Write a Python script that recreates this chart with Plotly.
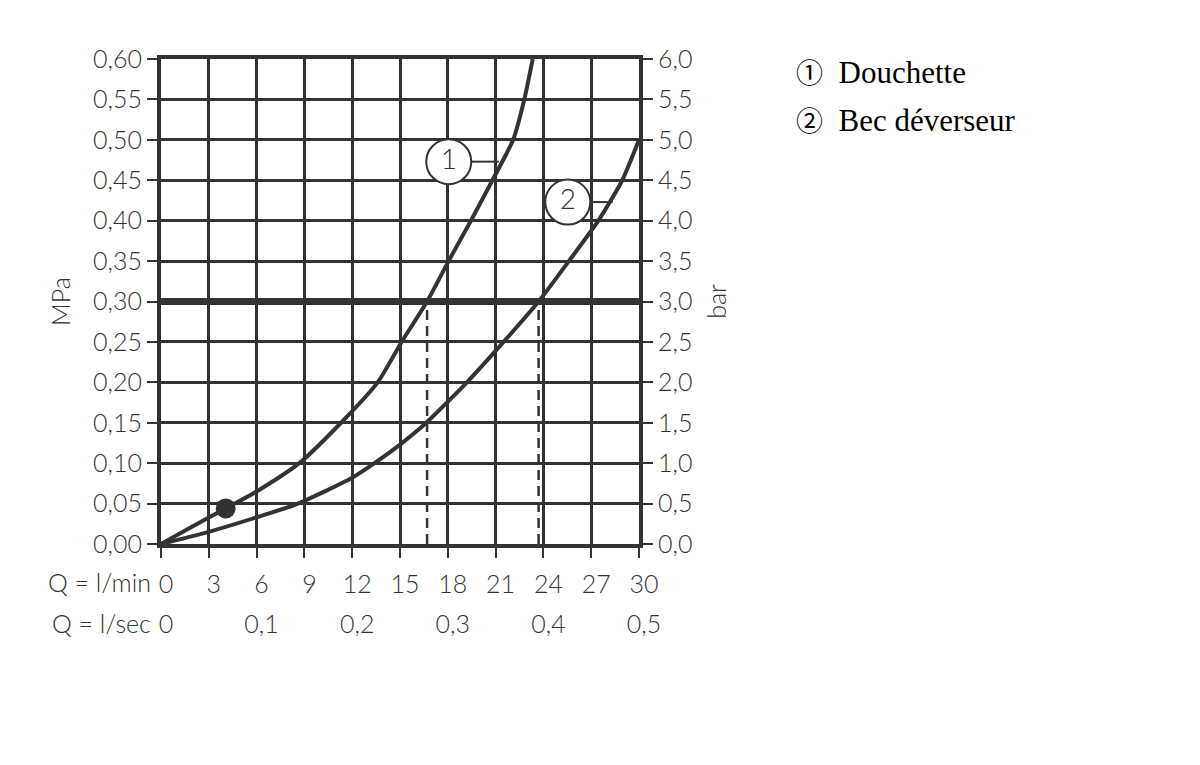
import plotly.graph_objects as go

# flow range (l/min) and pressure range (MPa)
flow_range = [0, 30]
mpa_range = [0, 0.60]
bar_range = [0, 6.0]
lsec_range = [0, 0.5]

# tick labels
flow_ticks = [0, 3, 6, 9, 12, 15, 18, 21, 24, 27, 30]
lsec_ticks = [0, 0.1, 0.2, 0.3, 0.4, 0.5]
lsec_labels = ["0", "0,1", "0,2", "0,3", "0,4", "0,5"]
mpa_ticks = [0, 0.05, 0.10, 0.15, 0.20, 0.25, 0.30, 0.35, 0.40, 0.45, 0.50, 0.55, 0.60]
mpa_labels = ["0,00", "0,05", "0,10", "0,15", "0,20", "0,25", "0,30",
              "0,35", "0,40", "0,45", "0,50", "0,55", "0,60"]
bar_ticks = [0, 0.5, 1.0, 1.5, 2.0, 2.5, 3.0, 3.5, 4.0, 4.5, 5.0, 5.5, 6.0]
bar_labels = ["0,0", "0,5", "1,0", "1,5", "2,0", "2,5", "3,0",
              "3,5", "4,0", "4,5", "5,0", "5,5", "6,0"]

# curve 1: Douchette
douchette_flow = [0, 2, 4.06, 6, 8.68, 11.3, 13.6, 15.1, 16.7, 18.05, 19.45, 20.8, 22.1, 22.8, 23.33]
douchette_mpa = [0, 0.022, 0.044, 0.065, 0.10, 0.15, 0.20, 0.25, 0.30, 0.35, 0.40, 0.45, 0.50, 0.55, 0.60]

# curve 2: Bec deverseur
bec_flow = [0, 3, 6, 8.6, 12, 13.4, 15, 16.65, 18, 19.2, 21.5, 23.7, 25.6, 27.45, 28.95, 30]
bec_mpa = [0, 0.015, 0.033, 0.05, 0.082, 0.10, 0.123, 0.15, 0.176, 0.20, 0.25, 0.30, 0.35, 0.40, 0.45, 0.50]

# working pressure line and flow at 3 bar
working_mpa = 0.30
flow_at_working = [16.7, 23.7]

# minimum-flow dot on curve 1
dot_flow = [4.06]
dot_mpa = [0.044]

# callout labels
callout_text = ["1", "2"]
callout_flow = [18.06, 25.53]
callout_mpa = [0.473, 0.423]
leader_start = [19.45, 26.92]
leader_end = [21.2, 28.35]

legend_marks = ["\u2460", "\u2461"]
legend_names = ["Douchette", "Bec d\u00e9verseur"]

ink = "#333333"
tick_font = dict(family="Lato, Open Sans, sans-serif", size=25, color=ink, weight=300)

fig = go.Figure()

# thick working-pressure line (3 bar)
fig.add_trace(go.Scatter(
    x=flow_range, y=[working_mpa, working_mpa], mode="lines",
    line=dict(color=ink, width=7), hoverinfo="skip", showlegend=False))

for q in flow_at_working:
    fig.add_trace(go.Scatter(
        x=[q, q], y=[mpa_range[0], working_mpa], mode="lines",
        line=dict(color=ink, width=2.5, dash="10px,6px"),
        hoverinfo="skip", showlegend=False))

fig.add_trace(go.Scatter(
    x=douchette_flow, y=douchette_mpa, mode="lines",
    line=dict(color=ink, width=4, shape="spline", smoothing=0.6),
    name="Douchette", showlegend=False))
fig.add_trace(go.Scatter(
    x=bec_flow, y=bec_mpa, mode="lines",
    line=dict(color=ink, width=4, shape="spline", smoothing=0.6),
    name="Bec déverseur", showlegend=False))

fig.add_trace(go.Scatter(
    x=dot_flow, y=dot_mpa, mode="markers",
    marker=dict(color=ink, size=20), hoverinfo="skip", showlegend=False))

for i in range(len(callout_text)):
    fig.add_trace(go.Scatter(
        x=[leader_start[i], leader_end[i]], y=[callout_mpa[i], callout_mpa[i]],
        mode="lines", line=dict(color=ink, width=2),
        hoverinfo="skip", showlegend=False))

fig.add_trace(go.Scatter(
    x=callout_flow, y=callout_mpa, mode="markers+text",
    text=callout_text, textposition="middle center",
    textfont=dict(family="Lato, Open Sans, sans-serif", size=28, color=ink, weight=300),
    marker=dict(size=45, color="white", line=dict(color=ink, width=2)),
    hoverinfo="skip", showlegend=False))

# invisible traces so the secondary axes get drawn
fig.add_trace(go.Scatter(x=[0], y=[0], xaxis="x2", mode="markers",
                         marker=dict(opacity=0), hoverinfo="skip", showlegend=False))
fig.add_trace(go.Scatter(x=[0], y=[0], yaxis="y2", mode="markers",
                         marker=dict(opacity=0), hoverinfo="skip", showlegend=False))

fig.update_layout(
    width=1200, height=765,
    margin=dict(l=153, r=569, t=51, b=229),
    paper_bgcolor="white", plot_bgcolor="white",
    xaxis=dict(range=flow_range, tickvals=flow_ticks, ticktext=[str(t) for t in flow_ticks],
               showgrid=True, gridcolor=ink, gridwidth=2.5, zeroline=False,
               showline=True, linecolor=ink, linewidth=4, mirror=True,
               ticks="outside", ticklen=10, tickwidth=2, tickcolor=ink,
               tickfont=tick_font, ticklabelstandoff=5, ticklabelshift=5),
    xaxis2=dict(range=lsec_range, overlaying="x", anchor="y", side="bottom",
                tickvals=lsec_ticks, ticktext=lsec_labels,
                showgrid=False, zeroline=False, showline=False, ticks="",
                tickfont=tick_font, ticklabelstandoff=63, ticklabelshift=5),
    yaxis=dict(range=mpa_range, tickvals=mpa_ticks, ticktext=mpa_labels,
               showgrid=True, gridcolor=ink, gridwidth=2.5, zeroline=False,
               showline=True, linecolor=ink, linewidth=4, mirror=True,
               ticks="outside", ticklen=10, tickwidth=2, tickcolor=ink,
               tickfont=tick_font,
               title=dict(text="MPa", font=tick_font, standoff=16)),
    yaxis2=dict(range=bar_range, overlaying="y", side="right",
                tickvals=bar_ticks, ticktext=bar_labels,
                showgrid=False, zeroline=False,
                showline=True, linecolor=ink, linewidth=4,
                ticks="outside", ticklen=10, tickwidth=2, tickcolor=ink,
                tickfont=tick_font,
                title=dict(text="bar", font=tick_font, standoff=18)),
)

fig.add_annotation(text="Q = l/min", xref="paper", yref="paper", x=0, y=0,
                   xanchor="right", yanchor="middle", xshift=-8, yshift=-38,
                   showarrow=False, font=tick_font)
fig.add_annotation(text="Q = l/sec", xref="paper", yref="paper", x=0, y=0,
                   xanchor="right", yanchor="middle", xshift=-8, yshift=-79,
                   showarrow=False, font=tick_font)

for i in range(len(legend_names)):
    label = ('<span style="font-family:Noto Sans CJK JP;font-size:27px">' + legend_marks[i]
             + '</span>  ' + legend_names[i])
    fig.add_annotation(text=label, xref="paper", yref="paper", x=1, y=1,
                       xanchor="left", yanchor="middle", xshift=155, yshift=-12 - 48 * i,
                       showarrow=False,
                       font=dict(family="Liberation Serif, Times New Roman, serif",
                                 size=31, color="black"))

fig.write_html("out.html")
